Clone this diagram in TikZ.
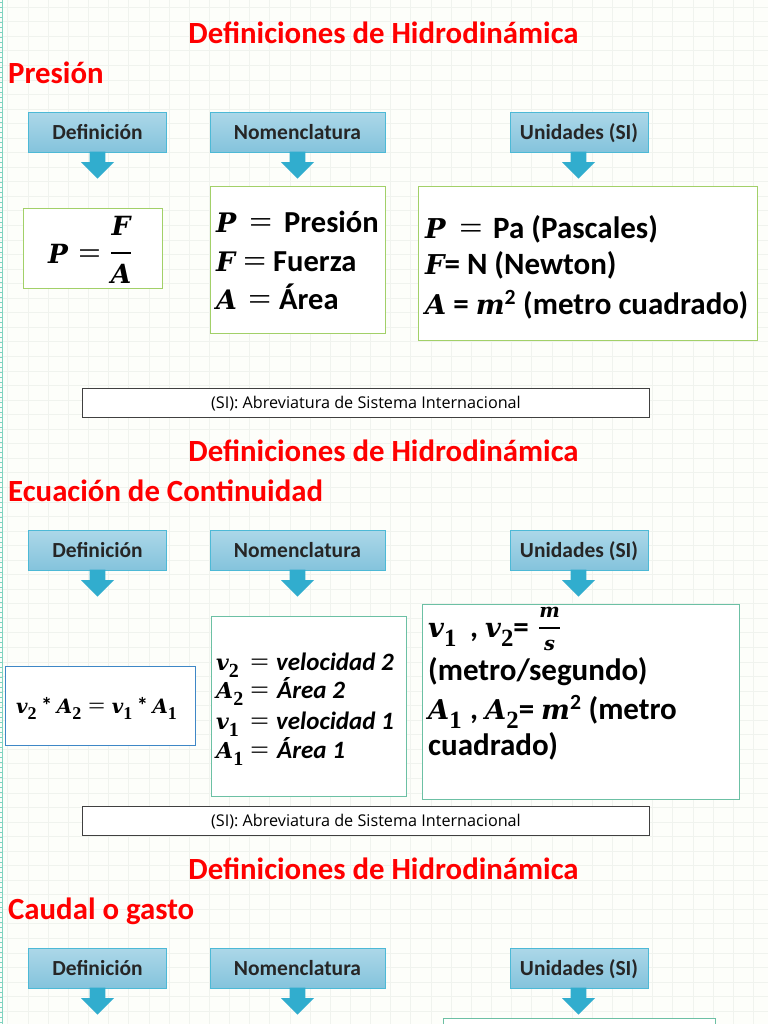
\documentclass[tikz,border=0pt]{standalone}
\usepackage{fontspec}
\setmainfont{Carlito}
\newfontfamily\mathserif[Scale=0.88]{DejaVu Serif}
\newfontfamily\subserif{Liberation Serif}
\newfontfamily\sifont{Open Sans}
\usetikzlibrary{shapes.arrows}
\definecolor{paper}{HTML}{FDFEFA}
\definecolor{gridline}{HTML}{F0F3EE}
\definecolor{edgetick}{HTML}{7FD3C0}
\definecolor{headtop}{HTML}{ABD7E8}
\definecolor{headbot}{HTML}{84C3DC}
\definecolor{headline}{HTML}{4DB9D6}
\definecolor{arrowfill}{HTML}{31ADCE}
\definecolor{greenline}{HTML}{A2D068}
\definecolor{tealline}{HTML}{6CC0A4}
\definecolor{blueline}{HTML}{3E87C6}
\newcommand{\mv}[1]{\mbox{\mathserif\bfseries\itshape #1}}
\newcommand{\mlow}[2]{\mv{#1}\raisebox{-.3em}{\fontsize{.8em}{1em}\selectfont\subserif\bfseries #2}}
\newcommand{\eqs}{\scalebox{1.35}[1]{\subserif\mdseries =}}
\newcommand{\lead}[2]{\makebox[#1pt][l]{#2}}
\tikzset{
	title/.style={text=red,font=\fontsize{30.8}{32}\selectfont\bfseries,inner sep=0pt},
	head/.style={draw=headline,line width=1pt,top color=headtop,bottom color=headbot,minimum width=138pt,minimum height=40pt,inner sep=0pt,text height=14pt,text depth=0pt,font=\fontsize{21.5}{23}\selectfont\bfseries,text=black!85},
	downarrow/.style={single arrow,fill=arrowfill,inner sep=7.5pt,minimum height=27pt,minimum width=33pt,single arrow head extend=8.5pt,single arrow head indent=0pt,shape border rotate=270,anchor=tip},
	whitebox/.style={draw=#1,fill=white,line width=1pt},
	line/.style={anchor=base west,inner sep=0pt,text=black,font=\fontsize{#1}{#1}\selectfont\bfseries},
	midline/.style={anchor=base,inner sep=0pt,text=black,font=\fontsize{#1}{#1}\selectfont\bfseries},
	fracbar/.style={line width=1.1pt},
	sibox/.style={draw=black!75,fill=white,line width=1pt,minimum width=567pt,minimum height=29pt,inner sep=0pt,text height=12pt,text depth=0pt,font=\fontsize{16.2}{18}\selectfont\sifont},
}
\begin{document}
\begin{tikzpicture}[x=1pt,y=-1pt]
	\useasboundingbox (0,0) rectangle (768,1024);
	\fill[paper] (0,0) rectangle (768,1024);
	% grid of the page
	\foreach \i in {0,...,37}
		\draw[gridline,line width=.8pt] (7.85+20.15*\i,0)--(7.85+20.15*\i,1024);
	\foreach \i in {0,...,70}
		\draw[gridline,line width=.8pt] (0,7.2+14.55*\i)--(768,7.2+14.55*\i);
	\foreach \i in {0,...,204}
		\draw[edgetick,line width=.8pt] (0,2+5*\i)--(2.5,2+5*\i);
	\draw[edgetick,line width=.6pt] (2,0)--(2,1024);
	% the parts that repeat every 418 px
	\foreach \n/\y in {a/0,b/418,c/836}{
		\node[title] (title\n) at (383.5,33+\y) {Definiciones de Hidrodinámica};
		\node[head] (def\n) at (97.5,132.5+\y) {Definición};
		\node[head,minimum width=175pt] (nom\n) at (297.5,132.5+\y) {Nomenclatura};
		\node[head] (uni\n) at (579,132.5+\y) {Unidades (SI)};
		\coordinate (tipd\n) at (97.5,179+\y);
		\coordinate (tipn\n) at (297.5,179+\y);
		\coordinate (tipu\n) at (578.5,179+\y);
		\node[downarrow] (arrd\n) at (tipd\n) {};
		\node[downarrow] (arrn\n) at (tipn\n) {};
		\node[downarrow] (arru\n) at (tipu\n) {};
	}
	\node[title,anchor=base west] (subA) at (8,83.5) {Presión};
	\node[title,anchor=base west] (subB) at (8,501) {Ecuación de Continuidad};
	\node[title,anchor=base west] (subC) at (8,919) {Caudal o gasto};

	% Presion
	\draw[whitebox=greenline] (23.5,208.5) rectangle (162.5,288);
	\draw[whitebox=greenline] (210.5,186.5) rectangle (385.5,333);
	\draw[whitebox=greenline] (418.5,186.5) rectangle (757.5,340);
	\node[line=30] (eqP) at (48,263) {\lead{30}{\mv{P}}\eqs};
	\node[midline=30] (numF) at (121,236) {\mv{F}};
	\node[midline=30] (denA) at (121,283) {\mv{A}};
	\draw[fracbar] (111,253)--(131,253);
	\node[line=30.5] (nomP) at (216,233) {\lead{68}{\lead{33}{\mv{P}}\eqs}Presión};
	\node[line=30.5] (nomF) at (216,271) {\lead{57}{\lead{27}{\mv{F}}\eqs}Fuerza};
	\node[line=30.5] (nomA) at (216,309) {\lead{63}{\lead{32}{\mv{A}}\eqs}Área};
	\node[line=31] (uniP) at (425,238) {\lead{68}{\lead{34}{\mv{P}}\eqs}Pa (Pascales)};
	\node[line=31] (uniF) at (425,274) {\mv{F}= N (Newton)};
	\node[line=31] (uniA) at (425,314) {\mv{A} = \mv{m}\textsuperscript{2} (metro cuadrado)};
	\node[sibox] (siA) at (366,402.5) {(SI): Abreviatura de Sistema Internacional};

	% Continuidad
	\draw[whitebox=blueline] (5.5,666.5) rectangle (195,745);
	\draw[whitebox=tealline] (211,616) rectangle (406,796);
	\draw[whitebox=tealline] (422,604) rectangle (739.5,799);
	\node[line=22.5] (eqC) at (16,713) {\mlow{v}{2}\hspace{.2em}*\hspace{.2em}\mlow{A}{2}\hspace{.3em}\eqs\hspace{.3em}\mlow{v}{1}\hspace{.2em}*\hspace{.2em}\mlow{A}{1}};
	\node[line=25] (nomVb) at (216,670) {\lead{60}{\lead{34}{\mlow{v}{2}}\eqs}\textit{velocidad 2}};
	\node[line=25] (nomAb) at (216,698) {\lead{61}{\lead{34}{\mlow{A}{2}}\eqs}\textit{Área 2}};
	\node[line=25] (nomVa) at (216,729) {\lead{60}{\lead{34}{\mlow{v}{1}}\eqs}\textit{velocidad 1}};
	\node[line=25] (nomAa) at (216,758) {\lead{61}{\lead{34}{\mlow{A}{1}}\eqs}\textit{Área 1}};
	\node[line=31] (uniV) at (428,637) {\lead{42}{\mlow{v}{1}}, \mlow{v}{2}=};
	\node[midline=22] (numM) at (549.5,617) {\mv{m}};
	\node[midline=22] (denS) at (549.5,650) {\mv{s}};
	\draw[fracbar] (539,628)--(560,628);
	\node[line=31] (uniMS) at (428,680) {(metro/segundo)};
	\node[line=31] (uniM) at (428,719) {\lead{42}{\mlow{A}{1}}, \mlow{A}{2}= \mv{m}\textsuperscript{2} (metro};
	\node[line=31] (uniC) at (428,755) {cuadrado)};
	\node[sibox] (siB) at (366,820.5) {(SI): Abreviatura de Sistema Internacional};

	% Caudal
	\draw[whitebox=tealline] (443.5,1018.5) rectangle (715,1030);
\end{tikzpicture}
\end{document}
